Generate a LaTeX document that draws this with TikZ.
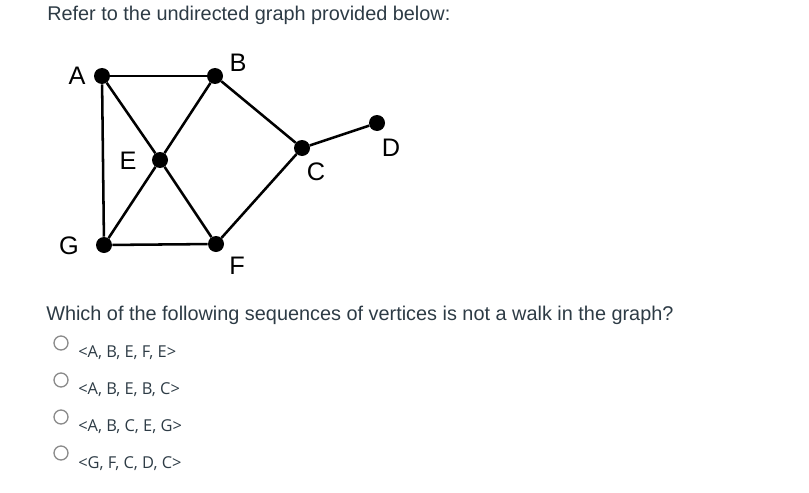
\documentclass[tikz,border=0pt]{standalone}
\usepackage{fontspec}
\setmainfont{Liberation Sans}
\newfontfamily\optfont{Open Sans}
\definecolor{txtgray}{HTML}{2D3B45}
\definecolor{radiogray}{HTML}{8A8A8A}

\begin{document}
\begin{tikzpicture}[x=0.75pt,y=-0.75pt,
    vert/.style={circle, fill=black, inner sep=0pt, minimum size=12pt},
    vlabel/.style={font=\fontsize{19}{19}\selectfont, inner sep=0pt},
    edge/.style={black, line width=1.9pt},
    qtext/.style={anchor=base west, inner sep=0pt, text=txtgray, font=\fontsize{14.9}{15}\selectfont},
    opt/.style={anchor=base west, inner sep=0pt, text=txtgray, font=\optfont\fontsize{12.3}{12.3}\selectfont},
    radio/.style={circle, draw=radiogray, line width=1pt, inner sep=0pt, minimum size=10.5pt}]
        \useasboundingbox (0,0) rectangle (809,492);

        \node[qtext] (intro) at (47,21) {Refer to the undirected graph provided below:};

        % vertices
        \node[vert] (A) at (102,76) {};
        \node[vert] (B) at (215,76) {};
        \node[vert] (E) at (160,160) {};
        \node[vert] (C) at (302,148) {};
        \node[vert] (D) at (377,123) {};
        \node[vert] (G) at (104,245) {};
        \node[vert] (F) at (216,244) {};

        \node[vlabel] (lA) at (77,76) {A};
        \node[vlabel] (lB) at (238,63) {B};
        \node[vlabel] (lE) at (128,161) {E};
        \node[vlabel] (lC) at (316,172) {C};
        \node[vlabel] (lD) at (391,148) {D};
        \node[vlabel] (lG) at (69,246) {G};
        \node[vlabel] (lF) at (237,266) {F};

        % edges
        \draw [edge] (A) -- (B);
        \draw [edge] (A) -- (G);
        \draw [edge] (G) -- (F);
        \draw [edge] (A) -- (E) -- (F);
        \draw [edge] (B) -- (E) -- (G);
        \draw [edge] (B) -- (C) -- (F);
        \draw [edge] (C) -- (D);

        \node[qtext] (quest) at (46,320) {Which of the following sequences of vertices is not a walk in the graph?};

        % answer options
        \node[radio] (r1) at (61,343) {};
        \node[radio] (r2) at (61,380) {};
        \node[radio] (r3) at (61,417) {};
        \node[radio] (r4) at (61,453) {};
        \node[opt] (o1) at (78,357) {<A, B, E, F, E>};
        \node[opt] (o2) at (78,394) {<A, B, E, B, C>};
        \node[opt] (o3) at (78,431) {<A, B, C, E, G>};
        \node[opt] (o4) at (78,468) {<G, F, C, D, C>};

\end{tikzpicture}
\end{document}
